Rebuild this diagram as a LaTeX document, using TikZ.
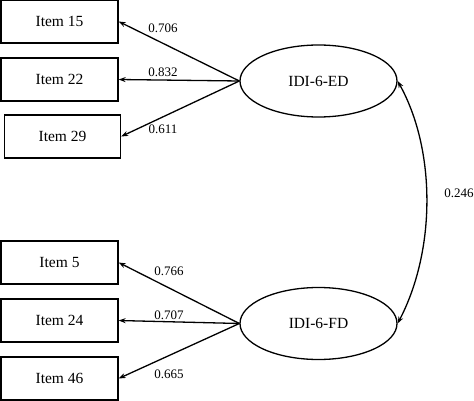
\documentclass[tikz,border=0pt]{standalone}
\usepackage{fontspec}
\setmainfont{Liberation Serif}
\usetikzlibrary{shapes.geometric,arrows.meta}
\begin{document}
\begin{tikzpicture}[x=1pt,y=-1pt,
  itembox/.style={draw,line width=1.3pt,rectangle,minimum width=117pt,minimum height=43pt,inner sep=0pt,font=\fontsize{15.5}{18}\selectfont},
  latent/.style={draw,line width=1.3pt,ellipse,minimum width=157pt,minimum height=72pt,inner sep=0pt,font=\fontsize{15.5}{18}\selectfont},
  load/.style={line width=1.3pt,-{Stealth[length=7pt,width=5pt]}},
  coef/.style={font=\fontsize{13}{15}\selectfont,inner sep=0pt}]
\useasboundingbox (0,0) rectangle (474,401);
\node[itembox] (i15) at (59.5,21.5) {Item 15};
\node[itembox] (i22) at (59.5,79.5) {Item 22};
\node[itembox,minimum width=116pt] (i29) at (62.5,136.5) {Item 29};
\node[itembox] (i5) at (59.5,262.5) {Item 5};
\node[itembox] (i24) at (59.5,320.5) {Item 24};
\node[itembox] (i46) at (59.5,378.5) {Item 46};
\node[latent] (ed) at (318.5,81) {IDI-6-ED};
\node[latent] (fd) at (318.5,323.5) {IDI-6-FD};
\draw[load] (ed.west) -- (i15.east);
\draw[load] (ed.west) -- (i22.east);
\draw[load] (ed.west) -- (i29.east);
\draw[load] (fd.west) -- (i5.east);
\draw[load] (fd.west) -- (i24.east);
\draw[load] (fd.west) -- (i46.east);
\node[coef] (c1) at (163,28) {0.706};
\node[coef] (c2) at (163,72) {0.832};
\node[coef] (c3) at (163,129) {0.611};
\node[coef] (c4) at (169,271) {0.766};
\node[coef] (c5) at (169,315) {0.707};
\node[coef] (c6) at (169,374) {0.665};
\draw[line width=1.3pt,{Stealth[length=7pt,width=5pt]}-{Stealth[length=7pt,width=5pt]}]
  (ed.east) .. controls (436,150) and (436,250) .. (fd.east);
\node[coef] (c7) at (459,193) {0.246};
\end{tikzpicture}
\end{document}
